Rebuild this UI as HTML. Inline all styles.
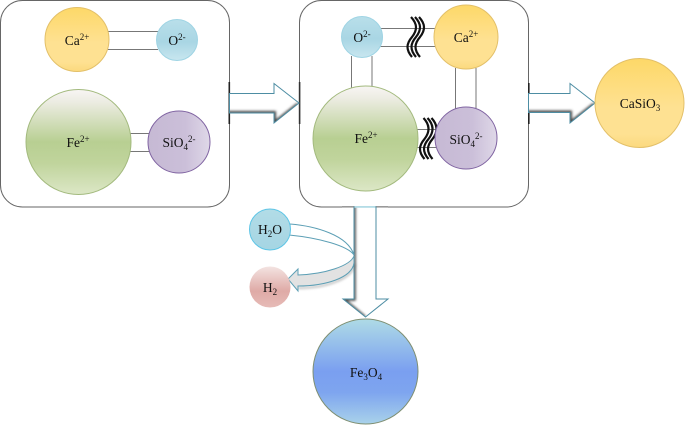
<!DOCTYPE html>
<html>
<head>
<meta charset="utf-8">
<style>
html,body{margin:0;padding:0;background:#fff;}
svg{display:block;}
text{font-family:"Liberation Serif",serif;font-size:13.5px;fill:#111;text-anchor:middle;}
</style>
</head>
<body>
<svg width="685" height="425" viewBox="0 0 685 425" xmlns="http://www.w3.org/2000/svg">
<defs>
<linearGradient id="ca" x1="0" y1="0" x2="0" y2="1"><stop offset="0" stop-color="#fdd868"/><stop offset=".55" stop-color="#fee192"/><stop offset=".85" stop-color="#fee192"/><stop offset="1" stop-color="#fbd97e"/></linearGradient>
<linearGradient id="fe" x1="0" y1="0" x2="0" y2="1"><stop offset="0" stop-color="#f8f5f4"/><stop offset=".12" stop-color="#ecece2"/><stop offset=".5" stop-color="#b8cf92"/><stop offset=".7" stop-color="#c0d49c"/><stop offset="1" stop-color="#dce7c6"/></linearGradient>
<linearGradient id="o" x1="0" y1="0" x2="0" y2="1"><stop offset="0" stop-color="#b9dfea"/><stop offset=".55" stop-color="#a9d6e4"/><stop offset="1" stop-color="#c8e6ef"/></linearGradient>
<linearGradient id="si" x1="0" y1="0" x2="1" y2="0"><stop offset="0" stop-color="#c6b9d4"/><stop offset=".6" stop-color="#cbbfd9"/><stop offset="1" stop-color="#dfd8e8"/></linearGradient>
<linearGradient id="fo" x1="0" y1="0" x2="0" y2="1"><stop offset="0" stop-color="#afdbe6"/><stop offset=".5" stop-color="#7a9ff0"/><stop offset=".7" stop-color="#7ea5ef"/><stop offset="1" stop-color="#a9d2ea"/></linearGradient>
<linearGradient id="h2" x1="0" y1="0" x2="0" y2="1"><stop offset="0" stop-color="#f3e3e1"/><stop offset=".6" stop-color="#dfaaa6"/><stop offset="1" stop-color="#e6bbb7"/></linearGradient>
<linearGradient id="h2o" x1="0" y1="0" x2="0" y2="1"><stop offset="0" stop-color="#b2dce7"/><stop offset="1" stop-color="#a5d5e3"/></linearGradient>
<filter id="b" x="-30%" y="-30%" width="160%" height="160%"><feGaussianBlur stdDeviation="1.200"/></filter>
<clipPath id="c1"><path d="M229.500 93.500H274V83.500L299 103L274 123V113H229.500Z"/></clipPath>
<clipPath id="c2"><path d="M528.500 93.500H570V83.500L595 103L570 123V112.500H528.500Z"/></clipPath>
<clipPath id="c3"><path d="M354 207V299H343L365.500 317L388 299H376V207Z"/></clipPath>
</defs>

<!-- boxes -->
<rect x="0.500" y="0.500" width="229" height="206.500" rx="22" fill="#fff" stroke="#666" stroke-width="1"/>
<rect x="299.500" y="0.500" width="229" height="206.500" rx="22" fill="#fff" stroke="#666" stroke-width="1"/>

<!-- ticks on box edges -->
<rect x="228.500" y="82" width="1.600" height="42" fill="#222"/>
<rect x="298.800" y="82" width="1.600" height="42" fill="#333"/>
<rect x="528" y="83" width="1.600" height="41" fill="#222"/>
<rect x="342" y="206" width="46" height="1.600" fill="#999"/>

<!-- right arrows -->
<path d="M229.500 93.500H274V83.500L299 103L274 123V113H229.500Z" fill="#fff"/>
<g clip-path="url(#c1)"><path d="M225 112.500H274.500V122.500L298 104" fill="none" stroke="#444" stroke-width="3" filter="url(#b)"/></g>
<path d="M229.500 93.500H274V83.500L299 103L274 123V113H229.500Z" fill="none" stroke="#4d8da3" stroke-width="1"/>

<path d="M528.500 93.500H570V83.500L595 103L570 123V112.500H528.500Z" fill="#fff"/>
<g clip-path="url(#c2)"><path d="M525 112H570.500V122.500L594 104" fill="none" stroke="#444" stroke-width="3" filter="url(#b)"/></g>
<path d="M528.500 93.500H570V83.500L595 103L570 123V112.500H528.500Z" fill="none" stroke="#4d8da3" stroke-width="1"/>

<!-- down arrow -->
<path d="M354 207V299H343L365.500 317L388 299H376V207Z" fill="#fff"/>
<g clip-path="url(#c3)"><path d="M354.500 205V299.500H344L365 317" fill="none" stroke="#444" stroke-width="2.500" filter="url(#b)"/></g>
<path d="M354 207V299H343L365.500 317L388 299H376V207Z" fill="none" stroke="#4d8da3" stroke-width="1"/>
<rect x="354.500" y="206" width="21" height="1.800" fill="#b4dce6"/>

<!-- curved arrow -->
<path d="M298 288C326 288 352 279 355 264" fill="none" stroke="#777" stroke-width="2" opacity=".5" filter="url(#b)"/>
<path d="M354 256C350 266 325 274 298 275V269L288 279L298 291V286C325 286 352 278 354 263Z" fill="#e2e2e2" stroke="#5c9fb5" stroke-width="1"/>
<path d="M290 224C315 226 348 235 354 255C348 246 320 238 289 235Z" fill="#fff" stroke="#5c9fb5" stroke-width="1"/>

<!-- bonds -->
<g stroke="#777" stroke-width="1" fill="none">
<path d="M108 31.500H158M108 49.500H158"/>
<path d="M129 133.500H149M129 151.500H149"/>
<path d="M380 28.500H435M380 46.500H435"/>
<path d="M351.500 56V88M372 56V88"/>
<path d="M455.500 68V110M476 68V110"/>
<path d="M417 129.500H437M417 147.500H437"/>
</g>

<!-- wavy lines -->
<g fill="none" stroke="#111" stroke-width="2.200">
<path d="M411 17C417.500 24 417.500 30 412 37C406 44 406 50 412 57"/>
<path d="M415 17C421.500 24 421.500 30 416 37C410 44 410 50 416 57"/>
<path d="M419 17C425.500 24 425.500 30 420 37C414 44 414 50 420 57"/>
<path d="M423.500 118C430 125 430 132 424.500 139C418.500 146 418.500 152 424.500 159"/>
<path d="M427.500 118C434 125 434 132 428.500 139C422.500 146 422.500 152 428.500 159"/>
<path d="M431.500 118C438 125 438 132 432.500 139C426.500 146 426.500 152 432.500 159"/>
</g>

<!-- circles -->
<circle cx="77" cy="39.500" r="32" fill="url(#ca)" stroke="#e3c069" stroke-width="1"/>
<circle cx="177" cy="40" r="20.500" fill="url(#o)" stroke="#9fd4e4" stroke-width="1"/>
<circle cx="78.500" cy="142" r="52.500" fill="url(#fe)" stroke="#a3ba7e" stroke-width="1"/>
<circle cx="179" cy="142" r="31" fill="url(#si)" stroke="#8064a2" stroke-width="1"/>

<circle cx="362" cy="37" r="20.500" fill="url(#o)" stroke="#9fd4e4" stroke-width="1"/>
<circle cx="466" cy="37" r="32" fill="url(#ca)" stroke="#e3c069" stroke-width="1"/>
<circle cx="365.500" cy="138.500" r="52.500" fill="url(#fe)" stroke="#a3ba7e" stroke-width="1"/>
<circle cx="466" cy="138" r="31" fill="url(#si)" stroke="#8064a2" stroke-width="1"/>

<circle cx="639.500" cy="103" r="44.500" fill="url(#ca)" stroke="#e3c069" stroke-width="1"/>
<circle cx="365.500" cy="371.500" r="52.500" fill="url(#fo)" stroke="#7f8f72" stroke-width="1"/>
<circle cx="270" cy="229.500" r="20.500" fill="url(#h2o)" stroke="#5ec5e6" stroke-width="1"/>
<circle cx="270" cy="287" r="20.500" fill="url(#h2)"/>

<!-- labels -->
<text x="77" y="45">Ca<tspan dy="-5" font-size="9">2+</tspan></text>
<text x="177" y="45">O<tspan dy="-5" font-size="9">2-</tspan></text>
<text x="78" y="147">Fe<tspan dy="-5" font-size="9">2+</tspan></text>
<text x="179" y="147">SiO<tspan dy="3" font-size="9">4</tspan><tspan dy="-8" font-size="9">2-</tspan></text>

<text x="362" y="42">O<tspan dy="-5" font-size="9">2-</tspan></text>
<text x="466" y="42">Ca<tspan dy="-5" font-size="9">2+</tspan></text>
<text x="366" y="143">Fe<tspan dy="-5" font-size="9">2+</tspan></text>
<text x="466" y="144">SiO<tspan dy="3" font-size="9">4</tspan><tspan dy="-8" font-size="9">2-</tspan></text>

<text x="640" y="108">CaSiO<tspan dy="3" font-size="9">3</tspan></text>
<text x="366" y="377">Fe<tspan dy="3" font-size="9">3</tspan><tspan dy="-3">O</tspan><tspan dy="3" font-size="9">4</tspan></text>
<text x="270" y="234">H<tspan dy="3" font-size="9">2</tspan><tspan dy="-3">O</tspan></text>
<text x="270" y="292">H<tspan dy="3" font-size="9">2</tspan></text>
</svg>
</body>
</html>
